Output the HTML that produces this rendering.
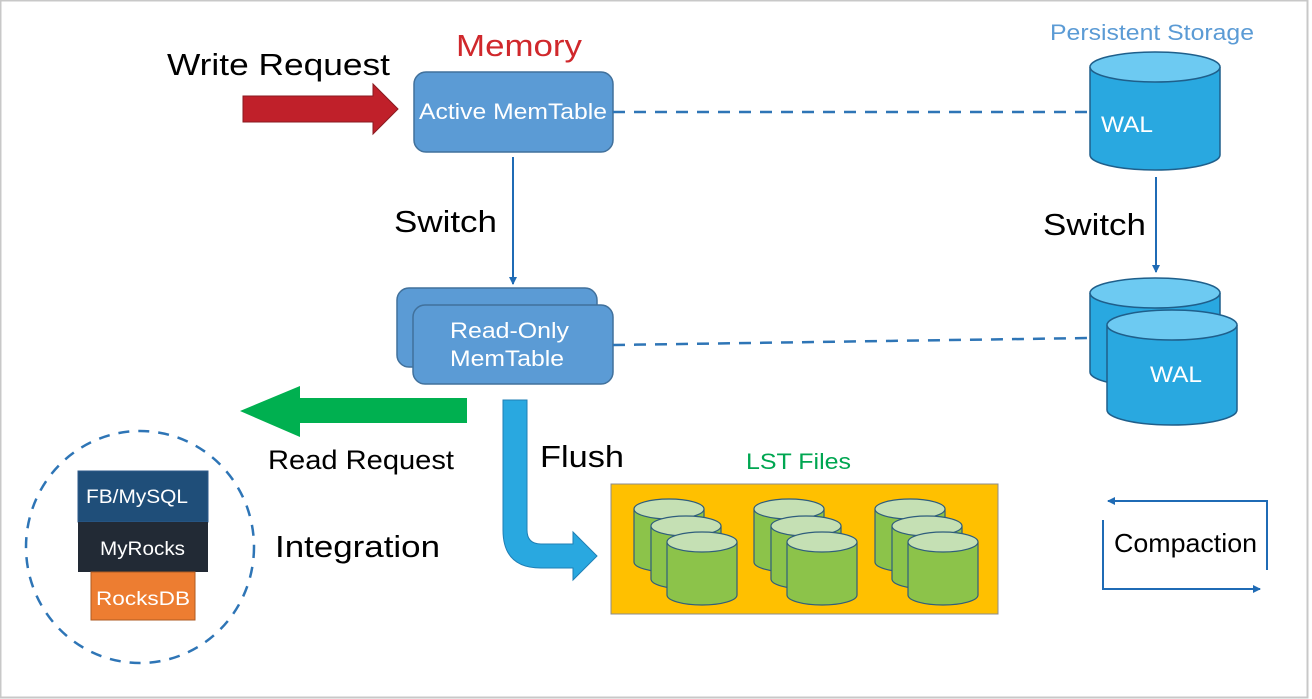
<!DOCTYPE html>
<html><head><meta charset="utf-8"><style>
html,body{margin:0;padding:0;background:#fff;}
svg{display:block;}
text{font-family:"Liberation Sans",Arial,sans-serif;}
</style></head><body>
<svg width="1312" height="699" viewBox="0 0 1312 699" xmlns="http://www.w3.org/2000/svg">
<defs>
<marker id="ah" markerWidth="8" markerHeight="8" refX="7" refY="4" orient="auto" markerUnits="userSpaceOnUse"><path d="M0,0 L8,4 L0,8 z" fill="#1f6bb5"/></marker>
</defs>
<rect x="0.5" y="0.5" width="1307" height="697" fill="#fff" stroke="#c8c8c8" stroke-width="2"/>

<!-- Write request -->
<text x="167" y="75" font-size="31" fill="#000" textLength="223" lengthAdjust="spacingAndGlyphs">Write Request</text>
<path d="M243,96 L373,96 L373,84 L398,109 L373,134 L373,122 L243,122 z" fill="#c0202a" stroke="#8a1a20" stroke-width="1"/>
<text x="456" y="56" font-size="31" fill="#d0282c" textLength="126" lengthAdjust="spacingAndGlyphs">Memory</text>

<!-- Active MemTable -->
<rect x="414" y="72" width="199" height="80" rx="12" fill="#5b9bd5" stroke="#41719c" stroke-width="1.5"/>
<text x="419" y="119" font-size="22" fill="#fff" textLength="188" lengthAdjust="spacingAndGlyphs">Active MemTable</text>
<line x1="613" y1="112" x2="1089" y2="112" stroke="#2e75b6" stroke-width="2.5" stroke-dasharray="12,9"/>

<!-- switch arrow -->
<line x1="513" y1="157" x2="513" y2="284" stroke="#1f6bb5" stroke-width="2" marker-end="url(#ah)"/>
<text x="394" y="232" font-size="31" fill="#000" textLength="103" lengthAdjust="spacingAndGlyphs">Switch</text>

<!-- Read-only -->
<rect x="397" y="288" width="200" height="79" rx="12" fill="#5b9bd5" stroke="#41719c" stroke-width="1.5"/>
<rect x="413" y="305" width="200" height="79" rx="12" fill="#5b9bd5" stroke="#41719c" stroke-width="1.5"/>
<text x="450" y="338" font-size="22" fill="#fff" textLength="119" lengthAdjust="spacingAndGlyphs">Read-Only</text>
<text x="450" y="366" font-size="22" fill="#fff" textLength="114" lengthAdjust="spacingAndGlyphs">MemTable</text>
<line x1="613" y1="345" x2="1089" y2="338" stroke="#2e75b6" stroke-width="2.5" stroke-dasharray="12,9"/>

<!-- Persistent storage -->
<text x="1050" y="40" font-size="22" fill="#5b9bd5" textLength="204" lengthAdjust="spacingAndGlyphs">Persistent Storage</text>
<g stroke="#1f5f8b" stroke-width="1.5">
<path d="M1090,67 L1090,155 A65,15 0 0 0 1220,155 L1220,67" fill="#29a8e0"/>
<ellipse cx="1155" cy="67" rx="65" ry="15" fill="#6dcaf2"/>
</g>
<text x="1101" y="132" font-size="22" fill="#fff" textLength="52" lengthAdjust="spacingAndGlyphs">WAL</text>
<line x1="1156" y1="177" x2="1156" y2="272" stroke="#1f6bb5" stroke-width="2" marker-end="url(#ah)"/>
<text x="1043" y="235" font-size="31" fill="#000" textLength="103" lengthAdjust="spacingAndGlyphs">Switch</text>
<g stroke="#1f5f8b" stroke-width="1.5">
<path d="M1090,293 L1090,372 A65,15 0 0 0 1220,372 L1220,293" fill="#29a8e0"/>
<ellipse cx="1155" cy="293" rx="65" ry="15" fill="#6dcaf2"/>
<path d="M1107,325 L1107,410 A65,15 0 0 0 1237,410 L1237,325" fill="#29a8e0"/>
<ellipse cx="1172" cy="325" rx="65" ry="15" fill="#6dcaf2"/>
</g>
<text x="1150" y="382" font-size="22" fill="#fff" textLength="52" lengthAdjust="spacingAndGlyphs">WAL</text>

<!-- Read request -->
<path d="M467,398 L300,398 L300,386 L240,411 L300,437 L300,423 L467,423 z" fill="#00b050"/>
<text x="268" y="469" font-size="27" fill="#000" textLength="186" lengthAdjust="spacingAndGlyphs">Read Request</text>

<!-- Flush -->
<path d="M503,400 L527,400 L527,530 Q527,544 541,544 L573,544 L573,532 L597,556 L573,580 L573,568 L541,568 Q503,568 503,530 z" fill="#29a8e0" stroke="#1f7fb5" stroke-width="1"/>
<text x="540" y="467" font-size="31" fill="#000" textLength="84" lengthAdjust="spacingAndGlyphs">Flush</text>

<!-- LST -->
<text x="746" y="469" font-size="22" fill="#00a651" textLength="105" lengthAdjust="spacingAndGlyphs">LST Files</text>
<rect x="611" y="484" width="387" height="130" fill="#ffc000" stroke="#8c8c8c" stroke-width="1"/>
<g stroke="#2f5d7c" stroke-width="1.2">
<g id="cg">
<path d="M634,509 L634,562 A35,10 0 0 0 704,562 L704,509" fill="#8cc34a"/><ellipse cx="669" cy="509" rx="35" ry="10" fill="#c5e0b4"/>
<path d="M651,526 L651,579 A35,10 0 0 0 721,579 L721,526" fill="#8cc34a"/><ellipse cx="686" cy="526" rx="35" ry="10" fill="#c5e0b4"/>
<path d="M667,542 L667,595 A35,10 0 0 0 737,595 L737,542" fill="#8cc34a"/><ellipse cx="702" cy="542" rx="35" ry="10" fill="#c5e0b4"/>
</g>
<use href="#cg" x="120"/>
<use href="#cg" x="241"/>
</g>

<!-- Compaction -->
<polyline points="1267,570 1267,501 1108,501" fill="none" stroke="#1f6bb5" stroke-width="2" marker-end="url(#ah)"/>
<polyline points="1103,520 1103,589 1260,589" fill="none" stroke="#1f6bb5" stroke-width="2" marker-end="url(#ah)"/>
<text x="1114" y="552" font-size="26" fill="#000" textLength="143" lengthAdjust="spacingAndGlyphs">Compaction</text>

<!-- Integration -->
<ellipse cx="140" cy="547" rx="114" ry="116" fill="none" stroke="#2e75b6" stroke-width="2.5" stroke-dasharray="11,9"/>
<rect x="78" y="471" width="130" height="51" fill="#1f4e79" stroke="#2e5a8a"/>
<text x="86" y="503" font-size="19" fill="#fff" textLength="102" lengthAdjust="spacingAndGlyphs">FB/MySQL</text>
<rect x="78" y="522" width="130" height="50" fill="#222a35"/>
<text x="100" y="555" font-size="19" fill="#fff" textLength="85" lengthAdjust="spacingAndGlyphs">MyRocks</text>
<rect x="91" y="572" width="104" height="48" fill="#ed7d31" stroke="#ae5a21"/>
<text x="96" y="605" font-size="19" fill="#fff" textLength="94" lengthAdjust="spacingAndGlyphs">RocksDB</text>
<text x="275" y="557" font-size="31" fill="#000" textLength="165" lengthAdjust="spacingAndGlyphs">Integration</text>
</svg>
</body></html>
